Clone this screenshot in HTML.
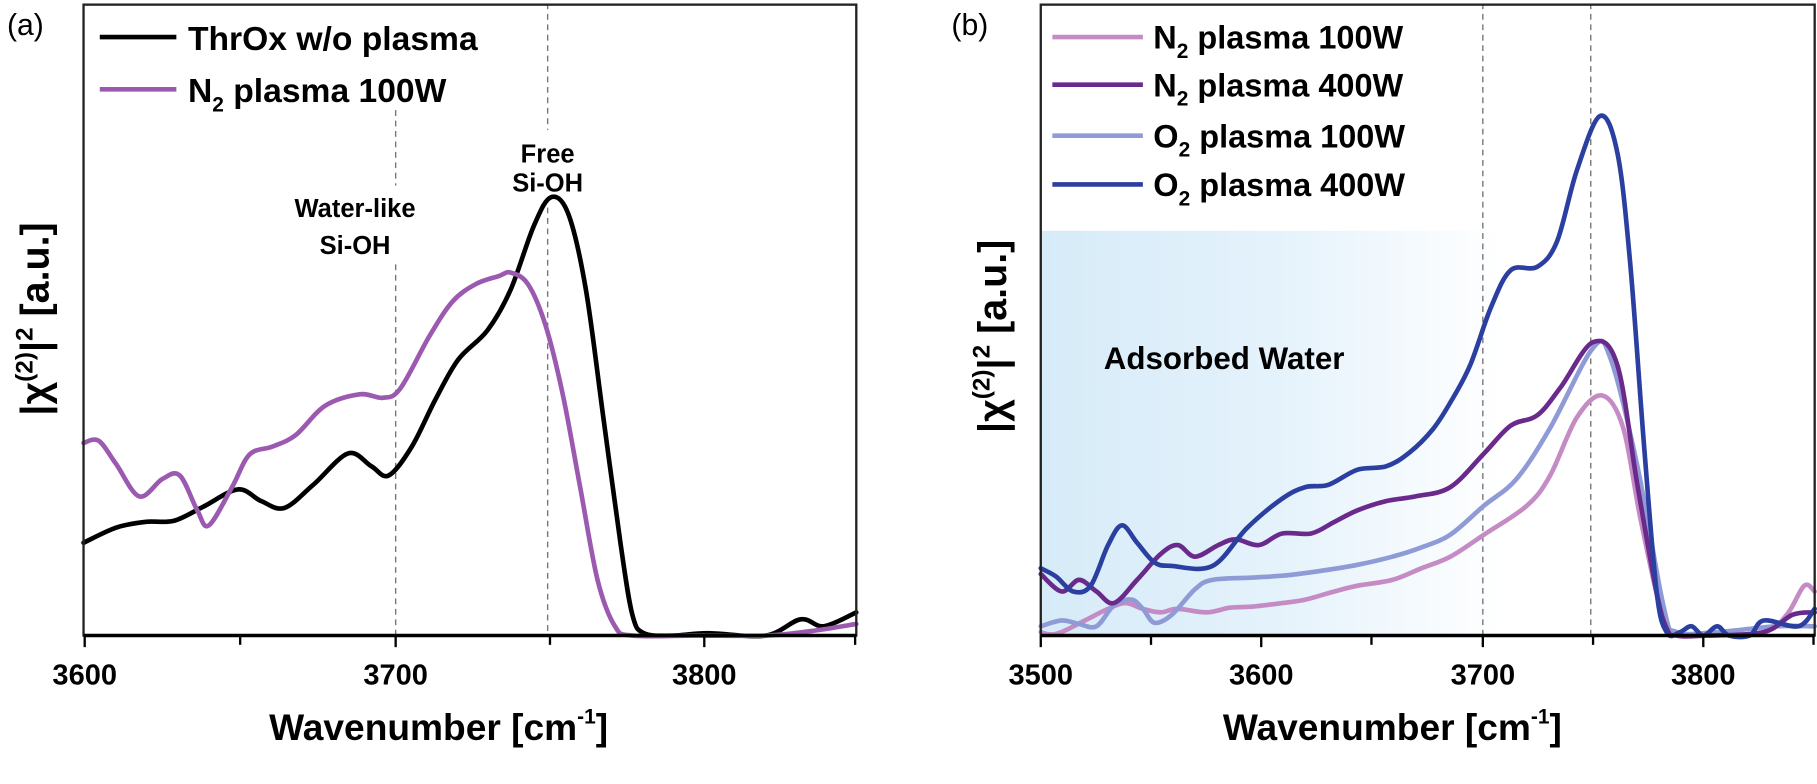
<!DOCTYPE html>
<html><head><meta charset="utf-8"><style>
body{margin:0;background:#fff}
svg{display:block;font-family:"Liberation Sans",Arial,sans-serif}
.b{font-weight:bold}
</style></head><body>
<svg id="s" width="1817" height="784" viewBox="0 0 1566 676" preserveAspectRatio="none">
<defs>
<linearGradient id="g" x1="0" x2="1" y1="0" y2="0">
<stop offset="0" stop-color="#d6ebf8"/><stop offset="0.5" stop-color="#e4f2fb"/><stop offset="1" stop-color="#ffffff"/>
</linearGradient>
</defs>
<rect x="897" y="199" width="400" height="349" fill="url(#g)"/>
<text x="6" y="30" font-size="26">(a)</text>
<text x="820" y="30" font-size="26">(b)</text>
<g stroke="#777" stroke-width="1.2" stroke-dasharray="5,4">
<line x1="341" y1="95" x2="341" y2="160"/><line x1="341" y1="228" x2="341" y2="548"/>
<line x1="472" y1="3" x2="472" y2="112"/><line x1="472" y1="170" x2="472" y2="548"/>
<line x1="1278" y1="3" x2="1278" y2="548"/><line x1="1371" y1="3" x2="1371" y2="548"/>
</g>
<g id="curves" fill="none" stroke-width="4" stroke-linejoin="round" stroke-linecap="round"></g>
<rect x="72" y="4" width="666" height="544" fill="none" stroke="#222" stroke-width="2"/>
<rect x="897" y="4" width="667" height="544" fill="none" stroke="#222" stroke-width="2"/>
<line x1="72" y1="548" x2="738" y2="548" stroke="#000" stroke-width="3"/>
<line x1="897" y1="548" x2="1564" y2="548" stroke="#000" stroke-width="3"/>
<g stroke="#000" stroke-width="2">
<line x1="73" y1="548" x2="73" y2="558"/><line x1="207" y1="548" x2="207" y2="556"/><line x1="341" y1="548" x2="341" y2="558"/><line x1="474" y1="548" x2="474" y2="556"/><line x1="607" y1="548" x2="607" y2="558"/><line x1="737" y1="548" x2="737" y2="556"/>
<line x1="897" y1="548" x2="897" y2="558"/><line x1="992" y1="548" x2="992" y2="556"/><line x1="1087" y1="548" x2="1087" y2="558"/><line x1="1182" y1="548" x2="1182" y2="556"/><line x1="1278" y1="548" x2="1278" y2="558"/><line x1="1373" y1="548" x2="1373" y2="556"/><line x1="1468" y1="548" x2="1468" y2="558"/><line x1="1563" y1="548" x2="1563" y2="556"/>
</g>
<g class="b" font-size="25" text-anchor="middle">
<text x="73" y="590">3600</text><text x="341" y="590">3700</text><text x="607" y="590">3800</text>
<text x="897" y="590">3500</text><text x="1087" y="590">3600</text><text x="1278" y="590">3700</text><text x="1468" y="590">3800</text>
</g>
<g class="b" font-size="32" text-anchor="middle">
<text x="378" y="638">Wavenumber [cm<tspan font-size="18" dy="-14">-1</tspan><tspan dy="14">]</tspan></text>
<text x="1200" y="638">Wavenumber [cm<tspan font-size="18" dy="-14">-1</tspan><tspan dy="14">]</tspan></text>
</g>
<g class="b" font-size="34">
<text transform="translate(42,275) rotate(-90)" text-anchor="middle">|χ<tspan font-size="21" dy="-14">(2)</tspan><tspan dy="14">|</tspan><tspan font-size="21" dy="-14">2</tspan><tspan dy="14"> [a.u.]</tspan></text>
<text transform="translate(867,290) rotate(-90)" text-anchor="middle">|χ<tspan font-size="21" dy="-14">(2)</tspan><tspan dy="14">|</tspan><tspan font-size="21" dy="-14">2</tspan><tspan dy="14"> [a.u.]</tspan></text>
</g>
<g class="b" font-size="22" text-anchor="middle">
<text x="472" y="140">Free</text><text x="472" y="165">Si-OH</text>
<text x="306" y="187">Water-like</text><text x="306" y="219">Si-OH</text>
<text x="1055" y="318" font-size="27">Adsorbed Water</text>
</g>
<g stroke-width="4">
<line x1="86" y1="32" x2="152" y2="32" stroke="#000"/>
<line x1="86" y1="77" x2="152" y2="77" stroke="#9b59b0"/>
<line x1="907" y1="32" x2="985" y2="32" stroke="#c48bc4"/>
<line x1="907" y1="73" x2="985" y2="73" stroke="#6a2a8c"/>
<line x1="907" y1="117" x2="985" y2="117" stroke="#8f9bd6"/>
<line x1="907" y1="159" x2="985" y2="159" stroke="#2b3fa0"/>
</g>
<g class="b" font-size="29">
<text x="162" y="43">ThrOx w/o plasma</text>
<text x="162" y="88">N<tspan font-size="18" dy="8">2</tspan><tspan dy="-8"> plasma 100W</tspan></text>
</g>
<g class="b" font-size="28">
<text x="994" y="42">N<tspan font-size="18" dy="8">2</tspan><tspan dy="-8"> plasma 100W</tspan></text>
<text x="994" y="83">N<tspan font-size="18" dy="8">2</tspan><tspan dy="-8"> plasma 400W</tspan></text>
<text x="994" y="127">O<tspan font-size="18" dy="8">2</tspan><tspan dy="-8"> plasma 100W</tspan></text>
<text x="994" y="169">O<tspan font-size="18" dy="8">2</tspan><tspan dy="-8"> plasma 400W</tspan></text>
</g>
</svg>
<script>
var S=[
["#000",[[72,468],[100,455],[125,450],[150,449],[175,437],[205,422],[225,432],[245,438],[270,418],[300,391],[320,402],[335,410],[355,385],[375,345],[395,310],[420,285],[440,250],[460,195],[475,170],[490,185],[505,250],[520,360],[535,470],[545,530],[555,546],[580,548],[610,546],[660,548],[690,534],[710,540],[738,528]]],
["#9b59b0",[[72,382],[85,380],[100,400],[120,428],[140,413],[155,410],[170,440],[180,453],[200,420],[215,392],[235,385],[255,375],[280,350],[310,340],[330,343],[345,335],[370,290],[390,260],[410,245],[430,238],[440,235],[455,245],[470,280],[485,340],[500,420],[515,500],[530,540],[545,548],[600,548],[660,548],[700,544],[738,538]]],
["#c48bc4",[[897,545],[905,547],[915,545],[935,535],[955,525],[970,520],[985,525],[1000,528],[1015,525],[1040,528],[1060,524],[1080,523],[1105,520],[1125,517],[1150,510],[1170,505],[1200,500],[1225,490],[1250,480],[1279,461],[1316,436],[1336,410],[1359,360],[1381,341],[1399,369],[1414,448],[1434,537],[1445,548],[1470,548],[1520,545],[1540,530],[1555,505],[1564,510]]],
["#8f9bd6",[[897,540],[915,535],[930,538],[945,540],[960,522],[975,517],[985,525],[995,537],[1010,530],[1030,508],[1045,500],[1080,498],[1110,496],[1140,492],[1170,487],[1200,480],[1225,472],[1250,461],[1279,436],[1307,413],[1336,369],[1373,300],[1388,309],[1411,401],[1434,524],[1445,545],[1480,545],[1530,540],[1564,540]]],
["#6a2a8c",[[897,495],[915,510],[930,500],[945,510],[960,520],[980,500],[1000,478],[1015,470],[1030,480],[1050,470],[1065,465],[1085,470],[1105,460],[1130,460],[1150,450],[1170,440],[1195,432],[1220,428],[1250,420],[1279,391],[1302,367],[1325,358],[1345,334],[1373,295],[1394,315],[1411,417],[1428,512],[1437,543],[1445,548],[1470,548],[1520,545],[1545,530],[1564,528]]],
["#2b3fa0",[[897,490],[910,497],[925,510],[940,505],[955,470],[967,453],[980,468],[995,485],[1010,488],[1045,488],[1075,455],[1105,430],[1125,420],[1145,418],[1170,405],[1195,402],[1215,390],[1235,370],[1250,347],[1267,315],[1285,265],[1302,233],[1325,230],[1342,208],[1359,147],[1379,100],[1394,132],[1405,227],[1417,385],[1428,512],[1437,546],[1448,545],[1458,540],[1468,548],[1480,540],[1490,548],[1508,548],[1520,535],[1550,540],[1564,525]]]
];
var g=document.getElementById('curves');
S.forEach(function(s){var p=s[1],d="M"+p[0][0]+","+p[0][1];
for(var i=0;i<p.length-1;i++){var p0=p[Math.max(0,i-1)],p1=p[i],p2=p[i+1],p3=p[Math.min(p.length-1,i+2)];
var c1x=p1[0]+(p2[0]-p0[0])/6,c1y=p1[1]+(p2[1]-p0[1])/6,c2x=p2[0]-(p3[0]-p1[0])/6,c2y=p2[1]-(p3[1]-p1[1])/6;
d+=" C"+c1x+","+c1y+" "+c2x+","+c2y+" "+p2[0]+","+p2[1];}
var e=document.createElementNS("http://www.w3.org/2000/svg","path");e.setAttribute("d",d);e.setAttribute("stroke",s[0]);g.appendChild(e);});
</script>
</body></html>
